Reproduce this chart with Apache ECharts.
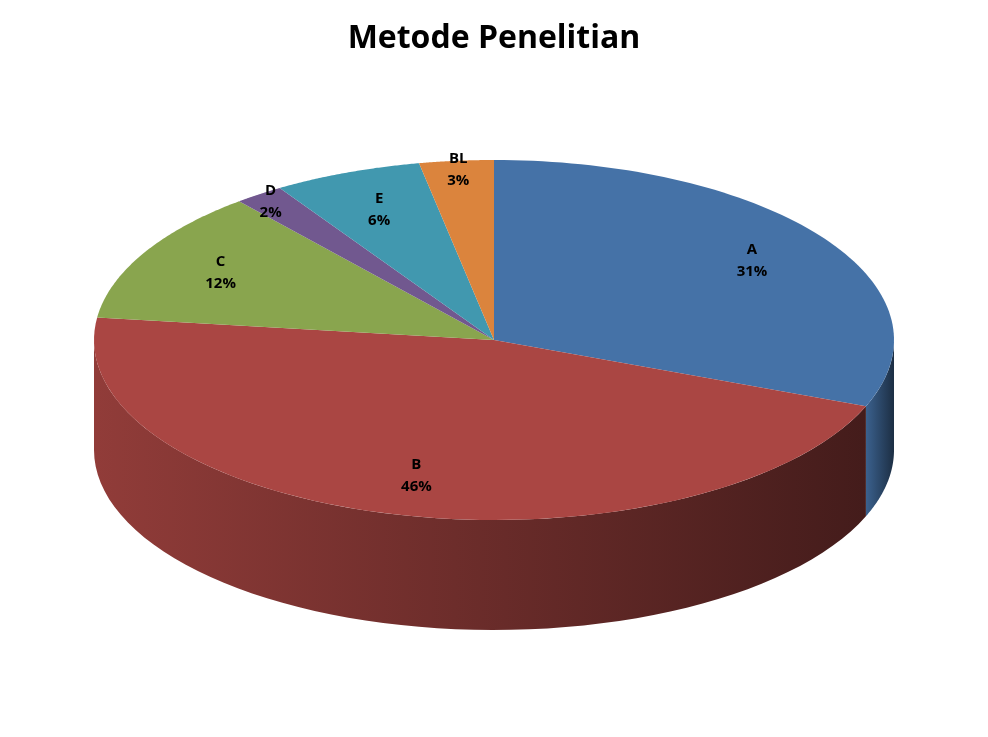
<!DOCTYPE html>
<html>
<head>
<meta charset="utf-8">
<script src="https://cdn.jsdelivr.net/npm/echarts@6/dist/echarts.min.js"></script>
<style>html,body{margin:0;padding:0;background:#fff}#c{width:988px;height:737px}</style>
</head>
<body>
<div id="c"></div>
<script>
const categories = ['A', 'B', 'C', 'D', 'E', 'BL'];
const values = [31, 46, 12, 2, 6, 3];
const colors = ['#4572A7', '#AA4643', '#89A54E', '#71588F', '#4198AF', '#DB843D'];

const total = values.reduce((a, b) => a + b, 0);
const starts = [];
values.reduce((acc, v) => { starts.push(acc); return acc + v; }, 0);

function shade(hex, k) {
  const n = parseInt(hex.slice(1), 16);
  const r = Math.round(((n >> 16) & 255) * k), g = Math.round(((n >> 8) & 255) * k), b = Math.round((n & 255) * k);
  return 'rgb(' + r + ',' + g + ',' + b + ')';
}

function renderItem(params, api) {
  const i = params.dataIndex;
  const cx = 494, cy = 340, rx = 400, ry = 180, depth = 110;
  const a0 = starts[i] / total * Math.PI * 2;
  const a1 = (starts[i] + api.value(0)) / total * Math.PI * 2;
  const pt = (t, dy) => [cx + rx * Math.sin(t), cy - ry * Math.cos(t) + (dy || 0)];
  const children = [];
  // side face (front half only)
  const s0 = Math.max(a0, Math.PI / 2), s1 = Math.min(a1, Math.PI * 1.5);
  if (s1 > s0) {
    const top = [], bot = [];
    for (let k = 0; k <= 60; k++) {
      const t = s0 + (s1 - s0) * k / 60;
      top.push(pt(t));
      bot.unshift(pt(t, depth));
    }
    children.push({
      type: 'polygon',
      shape: { points: top.concat(bot) },
      style: {
        fill: new echarts.graphic.LinearGradient(0, 0, 1, 0, [
          { offset: 0, color: shade(colors[i], 0.85) },
          { offset: 1, color: shade(colors[i], 0.4) }
        ], false)
      }
    });
  }
  // top face
  const pts = [[cx, cy]];
  for (let k = 0; k <= 80; k++) pts.push(pt(a0 + (a1 - a0) * k / 80));
  children.push({ type: 'polygon', shape: { points: pts }, style: { fill: colors[i] } });
  // label
  const mid = (a0 + a1) / 2;
  const f = values[i] < 4 ? 0.95 : 0.78;
  const lp = [cx + rx * f * Math.sin(mid), cy - ry * f * Math.cos(mid)];
  children.push({
    type: 'text', x: lp[0], y: lp[1],
    style: {
      text: categories[i] + '\n' + Math.round(api.value(0) / total * 100) + '%',
      fill: '#000', font: 'bold 15px "Open Sans", sans-serif',
      align: 'center', verticalAlign: 'middle', lineHeight: 22
    }
  });
  return { type: 'group', children };
}

const chart = echarts.init(document.getElementById('c'));
chart.setOption({
  animation: false,
  title: {
    text: 'Metode Penelitian', left: 'center', top: 18,
    textStyle: { fontSize: 32, fontWeight: 'bold', color: '#000', fontFamily: 'Open Sans' }
  },
  series: [{
    type: 'custom',
    coordinateSystem: 'none',
    renderItem: renderItem,
    data: values.map(v => [v])
  }]
});
</script>
</body>
</html>
